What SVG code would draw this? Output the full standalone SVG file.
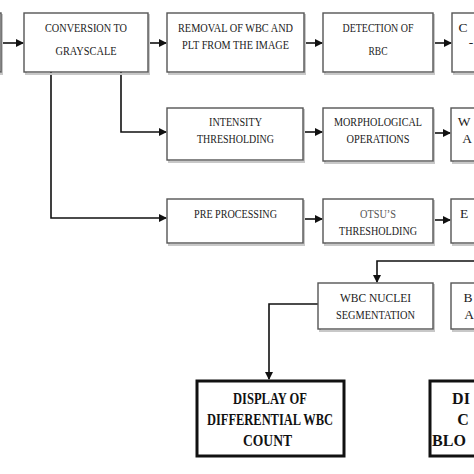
<svg xmlns="http://www.w3.org/2000/svg" width="474" height="474" viewBox="0 0 474 474">
<defs>
<marker id="ah" markerWidth="8" markerHeight="8" refX="7" refY="4" orient="auto" markerUnits="userSpaceOnUse">
<path d="M0,0 L8,4 L0,8 Z" fill="#111"/>
</marker>
<style>
.bx{fill:#fff;stroke:#555;stroke-width:1.4}
.sh{fill:none;stroke:#c8c8c8;stroke-width:2}
.bb{fill:#fff;stroke:#111;stroke-width:3}
.t{font-family:"Liberation Serif","Times New Roman",serif;font-size:13.5px;fill:#222;text-anchor:middle}
.tb{font-family:"Liberation Serif","Times New Roman",serif;font-size:16px;font-weight:bold;fill:#111;text-anchor:middle}
.c{fill:none;stroke:#111;stroke-width:1.6}
</style>
</defs>
<rect width="474" height="474" fill="#fff"/>
<g id="connectors">
<line class="c" x1="0" y1="43" x2="23" y2="43" marker-end="url(#ah)"/>
<line class="c" x1="148" y1="43" x2="166" y2="43" marker-end="url(#ah)"/>
<line class="c" x1="304" y1="43" x2="322" y2="43" marker-end="url(#ah)"/>
<line class="c" x1="433" y1="43" x2="451" y2="43" marker-end="url(#ah)"/>
<polyline class="c" points="121,72 121,132 166,132" marker-end="url(#ah)"/>
<line class="c" x1="303" y1="132" x2="322" y2="132" marker-end="url(#ah)"/>
<line class="c" x1="433" y1="133" x2="450" y2="133" marker-end="url(#ah)"/>
<polyline class="c" points="51,72 51,218 166,218" marker-end="url(#ah)"/>
<line class="c" x1="303" y1="219" x2="322" y2="219" marker-end="url(#ah)"/>
<line class="c" x1="433" y1="220" x2="450" y2="220" marker-end="url(#ah)"/>
<polyline class="c" points="474,261 377,261 377,282" marker-end="url(#ah)"/>
<polyline class="c" points="318,304 269,304 269,379" marker-end="url(#ah)"/>
</g>
<g id="n0">
<rect class="sh" x="-100" y="15" width="102" height="59"/>
<rect class="bx" x="-100" y="13" width="101" height="59"/>
</g>
<g id="n1">
<rect class="sh" x="26" y="15" width="123" height="59"/>
<rect class="bx" x="24" y="13" width="124" height="59"/>
<text class="t" x="86" y="32" textLength="82" lengthAdjust="spacingAndGlyphs">CONVERSION TO</text>
<text class="t" x="86" y="55" textLength="61" lengthAdjust="spacingAndGlyphs">GRAYSCALE</text>
</g>
<g id="n2">
<rect class="sh" x="169" y="15" width="136" height="59"/>
<rect class="bx" x="167" y="13" width="137" height="59"/>
<text class="t" x="235.5" y="32" textLength="115" lengthAdjust="spacingAndGlyphs">REMOVAL OF WBC AND</text>
<text class="t" x="235.5" y="49" textLength="107" lengthAdjust="spacingAndGlyphs">PLT FROM THE IMAGE</text>
</g>
<g id="n3">
<rect class="sh" x="325" y="15" width="109" height="59"/>
<rect class="bx" x="323" y="13" width="110" height="59"/>
<text class="t" x="378" y="32" textLength="71" lengthAdjust="spacingAndGlyphs">DETECTION OF</text>
<text class="t" x="378" y="55" textLength="19" lengthAdjust="spacingAndGlyphs">RBC</text>
</g>
<g id="n4">
<rect class="sh" x="454" y="15" width="40" height="59"/>
<rect class="bx" x="452" y="13" width="40" height="59"/>
<text class="t" x="463" y="32" text-anchor="start">C</text>
<text class="t" x="471" y="47">-</text>
</g>
<g id="n5">
<rect class="sh" x="169" y="110" width="135" height="52"/>
<rect class="bx" x="167" y="108" width="136" height="52"/>
<text class="t" x="235.5" y="126" textLength="53" lengthAdjust="spacingAndGlyphs">INTENSITY</text>
<text class="t" x="235.5" y="143" textLength="77" lengthAdjust="spacingAndGlyphs">THRESHOLDING</text>
</g>
<g id="n6">
<rect class="sh" x="325" y="110" width="109" height="53"/>
<rect class="bx" x="323" y="108" width="110" height="53"/>
<text class="t" x="378" y="126" textLength="88" lengthAdjust="spacingAndGlyphs">MORPHOLOGICAL</text>
<text class="t" x="378" y="143" textLength="63" lengthAdjust="spacingAndGlyphs">OPERATIONS</text>
</g>
<g id="n7">
<rect class="sh" x="453" y="110" width="40" height="53"/>
<rect class="bx" x="451" y="108" width="40" height="53"/>
<text class="t" x="464" y="126" text-anchor="start">W</text>
<text class="t" x="467" y="143" text-anchor="start">A</text>
</g>
<g id="n8">
<rect class="sh" x="169" y="201" width="135" height="44"/>
<rect class="bx" x="167" y="199" width="136" height="44"/>
<text class="t" x="235.5" y="218" textLength="83" lengthAdjust="spacingAndGlyphs">PRE PROCESSING</text>
</g>
<g id="n9">
<rect class="sh" x="325" y="201" width="109" height="44"/>
<rect class="bx" x="323" y="199" width="110" height="44"/>
<text class="t" x="378" y="218" textLength="36" lengthAdjust="spacingAndGlyphs" style="fill:#555">OTSU’S</text>
<text class="t" x="378" y="235" textLength="78" lengthAdjust="spacingAndGlyphs">THRESHOLDING</text>
</g>
<g id="n10">
<rect class="sh" x="453" y="201" width="40" height="44"/>
<rect class="bx" x="451" y="199" width="40" height="44"/>
<text class="t" x="464" y="218" text-anchor="start">E</text>
</g>
<g id="n11">
<rect class="sh" x="320" y="285" width="114" height="46"/>
<rect class="bx" x="318" y="283" width="115" height="46"/>
<text class="t" x="375.5" y="302" textLength="71" lengthAdjust="spacingAndGlyphs">WBC NUCLEI</text>
<text class="t" x="375.5" y="319" textLength="79" lengthAdjust="spacingAndGlyphs">SEGMENTATION</text>
</g>
<g id="n12">
<rect class="sh" x="453" y="285" width="40" height="46"/>
<rect class="bx" x="451" y="283" width="40" height="46"/>
<text class="t" x="468" y="302" text-anchor="start">B</text>
<text class="t" x="469" y="319" text-anchor="start">A</text>
</g>
<g id="n13">
<rect class="bb" x="197" y="381" width="147" height="75"/>
<text class="tb" x="270" y="404" textLength="74" lengthAdjust="spacingAndGlyphs">DISPLAY OF</text>
<text class="tb" x="270" y="425" textLength="126" lengthAdjust="spacingAndGlyphs">DIFFERENTIAL WBC</text>
<text class="tb" x="267.5" y="446" textLength="49" lengthAdjust="spacingAndGlyphs">COUNT</text>
</g>
<g id="n14">
<rect class="bb" x="430" y="381" width="80" height="75"/>
<text class="tb" x="461" y="404" text-anchor="start">DI</text>
<text class="tb" x="463" y="425" text-anchor="start">C</text>
<text class="tb" x="449" y="446" text-anchor="start">BLO</text>
</g>
</svg>
